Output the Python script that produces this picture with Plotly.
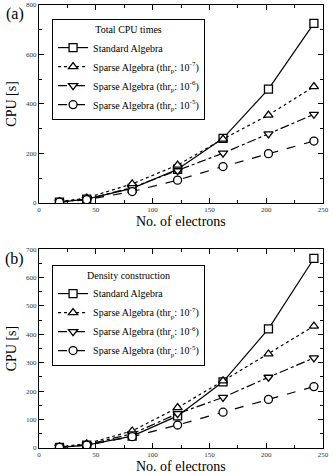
import plotly.graph_objects as go

electrons = [18, 42, 82, 122, 162, 202, 242]

# Panel (a): Total CPU times
a_standard = [3, 15, 59, 136, 261, 460, 725]
a_sparse7 = [5, 20, 77, 153, 258, 355, 470]
a_sparse6 = [4, 15, 62, 130, 201, 279, 358]
a_sparse5 = [3, 13, 46, 92, 147, 199, 250]

# Panel (b): Density construction
b_standard = [2, 10, 42, 113, 233, 419, 667]
b_sparse7 = [4, 15, 60, 142, 236, 331, 429]
b_sparse6 = [3, 12, 50, 121, 178, 249, 317]
b_sparse5 = [2, 10, 40, 81, 126, 171, 216]

names = ["Standard Algebra",
         "Sparse Algebra (thr<sub>p</sub>: 10<sup>-7</sup>)",
         "Sparse Algebra (thr<sub>p</sub>: 10<sup>-6</sup>)",
         "Sparse Algebra (thr<sub>p</sub>: 10<sup>-5</sup>)"]
symbols = ["square", "triangle-up", "triangle-down", "circle"]
dashes = ["solid", "dot", "dashdot", "dash"]

FONT = "Liberation Serif"
fig = go.Figure()

panels = [
    ([a_standard, a_sparse7, a_sparse6, a_sparse5], "x", "y", "legend"),
    ([b_standard, b_sparse7, b_sparse6, b_sparse5], "x2", "y2", "legend2"),
]
for series, xa, ya, lg in panels:
    for vals, nm, sym, dsh in zip(series, names, symbols, dashes):
        fig.add_trace(go.Scatter(
            x=electrons, y=vals, name=nm, mode="lines+markers",
            xaxis=xa, yaxis=ya, legend=lg,
            line=dict(color="black", width=1.2, dash=dsh),
            marker=dict(symbol=sym, size=8, color="white",
                        line=dict(color="black", width=1.3)),
        ))

axis_common = dict(
    showline=True, linecolor="black", linewidth=1, mirror="ticks",
    ticks="inside", ticklen=5, tickcolor="black", tickwidth=1,
    showgrid=False, zeroline=False, automargin=False,
    tickfont=dict(family=FONT, size=7, color="#333"),
)
xcommon = dict(axis_common, range=[0, 250], dtick=50,
               minor=dict(ticks="inside", ticklen=3, dtick=25, tickcolor="black"))
ytitle = dict(font=dict(family=FONT, size=14, color="black"), standoff=6)

legend_common = dict(xanchor="left", yanchor="top",
                     bordercolor="black", borderwidth=1, bgcolor="white",
                     font=dict(family=FONT, size=10, color="black"),
                     tracegroupgap=0, itemwidth=30)

xtitle_font = dict(family=FONT, size=14, color="black")
label_font = dict(family=FONT, size=16, color="black")

fig.update_layout(
    width=333, height=473,
    margin=dict(l=39, r=10, t=4, b=25),
    paper_bgcolor="white", plot_bgcolor="white",
    showlegend=True,
    xaxis=dict(xcommon, domain=[0, 1], anchor="y"),
    yaxis=dict(axis_common, domain=[0.552, 0.998], anchor="x", range=[0, 800], dtick=200,
               minor=dict(ticks="inside", ticklen=3, dtick=100, tickcolor="black"),
               title=dict(ytitle, text="CPU [s]")),
    xaxis2=dict(xcommon, domain=[0, 1], anchor="y2"),
    yaxis2=dict(axis_common, domain=[0, 0.448], anchor="x2", range=[0, 700], dtick=100,
                minor=dict(ticks="inside", ticklen=3, dtick=50, tickcolor="black"),
                title=dict(ytitle, text="CPU [s]")),
    legend=dict(legend_common, x=0.046, y=0.966,
                title=dict(text="Total CPU times", side="top center",
                           font=dict(family=FONT, size=10, color="black"))),
    legend2=dict(legend_common, x=0.046, y=0.412,
                 title=dict(text="Density construction", side="top center",
                            font=dict(family=FONT, size=10, color="black"))),
    annotations=[
        dict(text="No. of electrons", x=0.5, y=(448 - 221) / 444, xref="paper", yref="paper",
             showarrow=False, xanchor="center", yanchor="middle", font=xtitle_font),
        dict(text="No. of electrons", x=0.5, y=(448 - 466) / 444, xref="paper", yref="paper",
             showarrow=False, xanchor="center", yanchor="middle", font=xtitle_font),
        dict(text="(a)", x=-0.085, y=(448 - 14) / 444, xref="paper", yref="paper",
             showarrow=False, xanchor="center", yanchor="middle", font=label_font),
        dict(text="(b)", x=-0.085, y=(448 - 259) / 444, xref="paper", yref="paper",
             showarrow=False, xanchor="center", yanchor="middle", font=label_font),
    ],
)

fig.write_html("out.html", config={"displayModeBar": False},
               post_script="document.body.style.margin='0';document.body.style.overflow='hidden';")
